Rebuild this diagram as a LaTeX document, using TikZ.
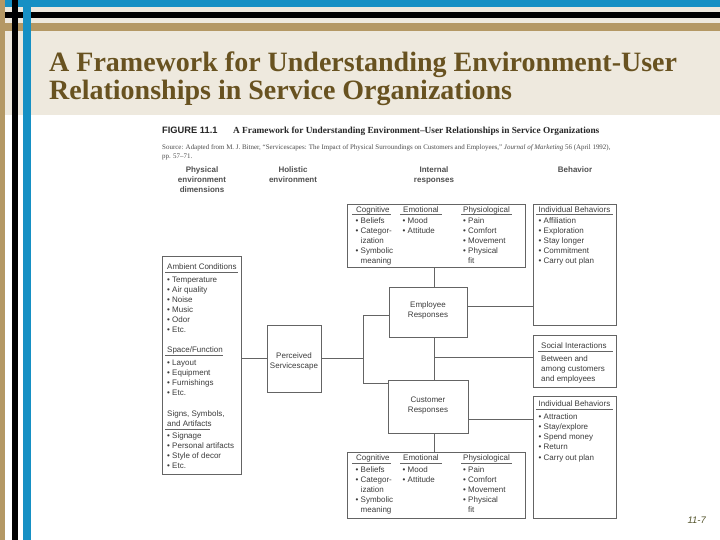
\documentclass[tikz,border=0pt]{standalone}
\usepackage{fontspec}
\setmainfont{Liberation Serif}
\setsansfont{Liberation Sans}
\usetikzlibrary{fit}
\definecolor{bblue}{RGB}{22,144,196}
\definecolor{btan}{RGB}{180,152,100}
\definecolor{bbeige}{RGB}{238,233,222}
\definecolor{ttl}{RGB}{104,82,32}
\definecolor{dtxt}{RGB}{60,60,60}
\definecolor{lgray}{RGB}{100,100,100}
\definecolor{pgn}{RGB}{85,85,45}
\newcommand\itemcol[5]{%
  \foreach \t [count=\i] in {#5} {\node[txt] (#1\i) at (#2,{#3+#4*(\i-1)}) {\t};}}
\tikzset{
  txt/.style={inner sep=0, anchor=base west, font=\sffamily\fontsize{8}{9}\selectfont, text=dtxt},
  ctxt/.style={txt, anchor=base},
  hdr/.style={inner sep=0, anchor=base, font=\sffamily\bfseries\fontsize{8}{9}\selectfont, text=dtxt!90},
  box/.style={draw=lgray, line width=0.8pt, inner sep=0},
  conn/.style={draw=lgray, line width=0.8pt},
  uline/.style={draw=lgray, line width=0.6pt},
}
\begin{document}
\begin{tikzpicture}[x=1pt,y=-1pt]
\useasboundingbox (0,0) rectangle (720,540);
\fill[white] (0,0) rectangle (720,540);
% header band
\fill[bbeige] (0,0) rectangle (720,115);
\fill[bblue] (0,0) rectangle (720,7);
\fill[black] (0,12) rectangle (720,18);
\fill[btan] (0,23) rectangle (720,31);
\fill[btan] (0,0) rectangle (5,540);
\fill[black] (12,0) rectangle (18,540);
\fill[bblue] (23,0) rectangle (31,540);
% slide title
\node[anchor=base west, inner sep=0, font=\bfseries\fontsize{28}{28}\selectfont, text=ttl] (title1) at (49,72) {A Framework for Understanding Environment-User};
\node[anchor=base west, inner sep=0, font=\bfseries\fontsize{28}{28}\selectfont, text=ttl] (title2) at (49,100) {Relationships in Service Organizations};
% figure caption
\node[anchor=base west, inner sep=0, font=\sffamily\bfseries\fontsize{9.3}{10}\selectfont, text=black!85] (fig) at (162,134) {FIGURE 11.1};
\node[anchor=base west, inner sep=0, font=\bfseries\fontsize{9.3}{10}\selectfont, text=black!85] (figt) at (233,134) {A Framework for Understanding Environment–User Relationships in Service Organizations};
\node[anchor=base west, inner sep=0, font=\fontsize{6.95}{8}\selectfont, text=black!70] (src1) at (162,150) {Source: Adapted from M. J. Bitner, “Servicescapes: The Impact of Physical Surroundings on Customers and Employees,” \textit{Journal of Marketing} 56 (April 1992),};
\node[anchor=base west, inner sep=0, font=\fontsize{6.95}{8}\selectfont, text=black!70] (src2) at (162,159) {pp. 57–71.};
% column headers
\node[hdr] (h1a) at (202,173) {Physical};
\node[hdr] (h1b) at (202,183) {environment};
\node[hdr] (h1c) at (202,193) {dimensions};
\node[hdr] (h2a) at (293,173) {Holistic};
\node[hdr] (h2b) at (293,183) {environment};
\node[hdr] (h3a) at (434,173) {Internal};
\node[hdr] (h3b) at (434,183) {responses};
\node[hdr] (h4) at (575,173) {Behavior};
% boxes
\node[box, fit={(162,256) (241,474)}] (phys) {};
\node[box, fit={(267,325) (321,392)}] (perc) {};
\node[box, fit={(389,287) (467,337)}] (emp) {};
\node[box, fit={(388,380) (468,433)}] (cust) {};
\node[box, fit={(347,204) (525,267)}] (intTop) {};
\node[box, fit={(347,452) (525,518)}] (intBot) {};
\node[box, fit={(533,204) (616,325)}] (indTop) {};
\node[box, fit={(533,335) (616,387)}] (soc) {};
\node[box, fit={(533,396) (616,518)}] (indBot) {};
% physical environment dimensions
\node[txt] (amb) at (167,269) {Ambient Conditions};
\draw[uline] (165,271.8) -- (238,271.8);
\itemcol{ambi}{167}{282}{10}{• Temperature, • Air quality, • Noise, • Music, • Odor, • Etc.}
\node[txt] (spf) at (167,352) {Space/Function};
\draw[uline] (165,354.8) -- (223,354.8);
\itemcol{spfi}{167}{365}{10}{• Layout, • Equipment, • Furnishings, • Etc.}
\node[txt] (sgn) at (167,416) {Signs, Symbols,};
\node[txt] (sgn2) at (167,426) {and Artifacts};
\draw[uline] (165,428.8) -- (210,428.8);
\itemcol{sgni}{167}{438.5}{10}{• Signage, • Personal artifacts, • Style of decor, • Etc.}
% perceived servicescape
\node[ctxt] (perc1) at (294,358) {Perceived};
\node[ctxt] (perc2) at (294,368) {Servicescape};
% employee / customer
\node[ctxt] (emp1) at (428,307) {Employee};
\node[ctxt] (emp2) at (428,317) {Responses};
\node[ctxt] (cust1) at (428,402) {Customer};
\node[ctxt] (cust2) at (428,412) {Responses};
% internal responses top
\node[txt] (tc) at (356,212) {Cognitive};
\node[txt] (te) at (403,212) {Emotional};
\node[txt] (tp) at (463,212) {Physiological};
\draw[uline] (352,214.8) -- (391,214.8);
\draw[uline] (400,214.8) -- (442,214.8);
\draw[uline] (461,214.8) -- (512,214.8);
\itemcol{tci}{355.5}{223}{10.1}{• Beliefs, • Categor-, \hphantom{• }ization, • Symbolic, \hphantom{• }meaning}
\itemcol{tei}{402.5}{223}{10.1}{• Mood, • Attitude}
\itemcol{tpi}{463}{223}{10.1}{• Pain, • Comfort, • Movement, • Physical, \hphantom{• }fit}
% internal responses bottom
\node[txt] (bc) at (356,460) {Cognitive};
\node[txt] (be) at (403,460) {Emotional};
\node[txt] (bp) at (463,460) {Physiological};
\draw[uline] (352,462.8) -- (391,462.8);
\draw[uline] (400,462.8) -- (442,462.8);
\draw[uline] (461,462.8) -- (512,462.8);
\itemcol{bci}{355.5}{472}{10.1}{• Beliefs, • Categor-, \hphantom{• }ization, • Symbolic, \hphantom{• }meaning}
\itemcol{bei}{402.5}{472}{10.1}{• Mood, • Attitude}
\itemcol{bpi}{463}{472}{10.1}{• Pain, • Comfort, • Movement, • Physical, \hphantom{• }fit}
% behaviours
\node[txt] (it) at (538.5,212) {Individual Behaviors};
\draw[uline] (536,214.8) -- (613,214.8);
\itemcol{iti}{538.5}{223}{10.1}{• Affiliation, • Exploration, • Stay longer, • Commitment, • Carry out plan}
\node[txt] (so) at (541,348) {Social Interactions};
\draw[uline] (538,350.8) -- (613,350.8);
\itemcol{soi}{541}{361}{10}{Between and, among customers, and employees}
\node[txt] (ib) at (538.5,406) {Individual Behaviors};
\draw[uline] (536,408.8) -- (613,408.8);
\itemcol{ibi}{538.5}{419}{10.3}{• Attraction, • Stay/explore, • Spend money, • Return, • Carry out plan}
% connectors
\coordinate (ja) at (363,315);
\coordinate (jb) at (363,383);
\coordinate (vx) at (434,357);
\coordinate (ea) at (467,306);
\coordinate (eb) at (468,419);
\draw[conn] (phys.east |- perc.west) -- (perc.west);
\draw[conn] (perc.east) -- (perc.east -| ja);
\draw[conn] (ja -| emp.west) -- (ja) -- (jb) -- (jb -| cust.west);
\draw[conn] (vx |- intTop.south) -- (vx |- emp.north);
\draw[conn] (vx |- emp.south) -- (vx |- cust.north);
\draw[conn] (vx) -- (vx -| soc.west);
\draw[conn] (vx |- cust.south) -- (vx |- intBot.north);
\draw[conn] (emp.east |- ea) -- (indTop.west |- ea);
\draw[conn] (cust.east |- eb) -- (indBot.west |- eb);
% page number
\node[anchor=base east, inner sep=0, font=\sffamily\itshape\fontsize{9.5}{10}\selectfont, text=pgn] (pg) at (706,523) {11-7};
\end{tikzpicture}
\end{document}
